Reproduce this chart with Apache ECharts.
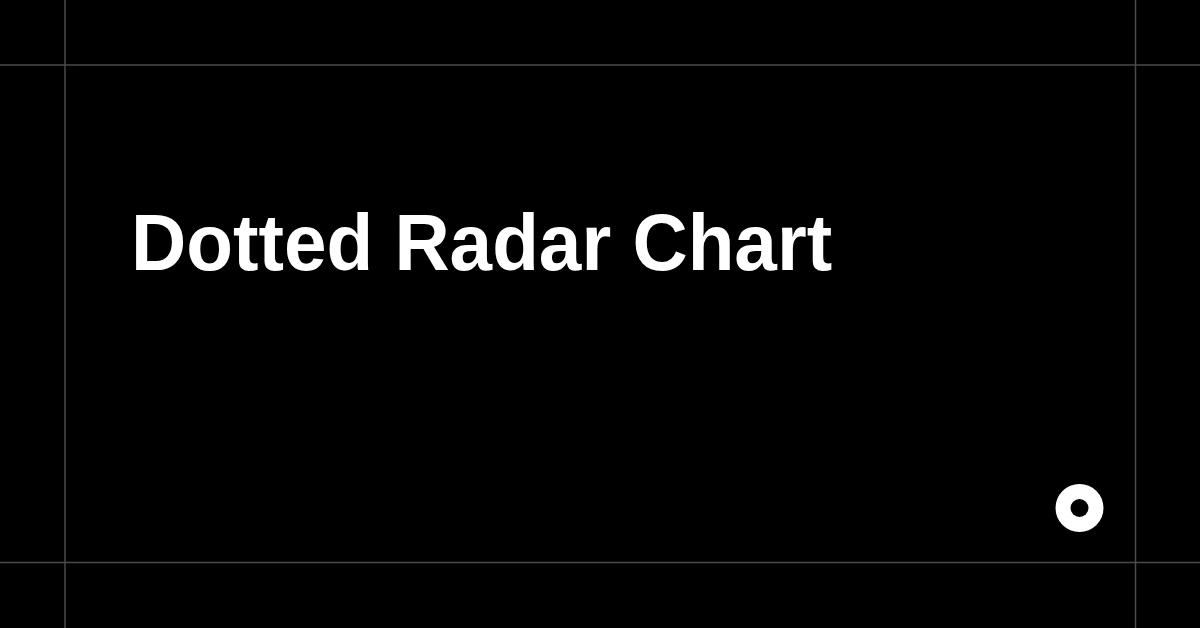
<!DOCTYPE html>
<html>
<head>
<meta charset="utf-8">
<style>
html, body { margin: 0; padding: 0; background: #000; }
#main { width: 1200px; height: 628px; }
</style>
<script src="https://cdn.jsdelivr.net/npm/echarts@6/dist/echarts.min.js"></script>
</head>
<body>
<div id="main"></div>
<script>
// Title card: no data series, only text.
const titleText = "Dotted Radar Chart";

const chart = echarts.init(document.getElementById('main'), null, { renderer: 'canvas', width: 1200, height: 628 });
const lineColor = '#4d4a48';
chart.setOption({
  backgroundColor: '#000000',
  animation: false,
  graphic: [
    { type: 'line', shape: { x1: 65, y1: 0, x2: 65, y2: 628 }, style: { stroke: lineColor, lineWidth: 1.5 } },
    { type: 'line', shape: { x1: 1135.5, y1: 0, x2: 1135.5, y2: 628 }, style: { stroke: lineColor, lineWidth: 1.5 } },
    { type: 'line', shape: { x1: 0, y1: 65, x2: 1200, y2: 65 }, style: { stroke: lineColor, lineWidth: 1.5 } },
    { type: 'line', shape: { x1: 0, y1: 562.5, x2: 1200, y2: 562.5 }, style: { stroke: lineColor, lineWidth: 1.5 } },
    { type: 'circle', shape: { cx: 1079.5, cy: 508, r: 24 }, style: { fill: '#ffffff' } },
    { type: 'circle', shape: { cx: 1079.5, cy: 508, r: 9 }, style: { fill: '#000000' } },
    {
      type: 'text', x: 131, y: 248, scaleX: 0.956,
      style: {
        text: titleText, fill: '#ffffff',
        font: 'bold 80px "Liberation Sans"',
        textAlign: 'left', textVerticalAlign: 'middle'
      }
    }
  ]
});
</script>
</body>
</html>
